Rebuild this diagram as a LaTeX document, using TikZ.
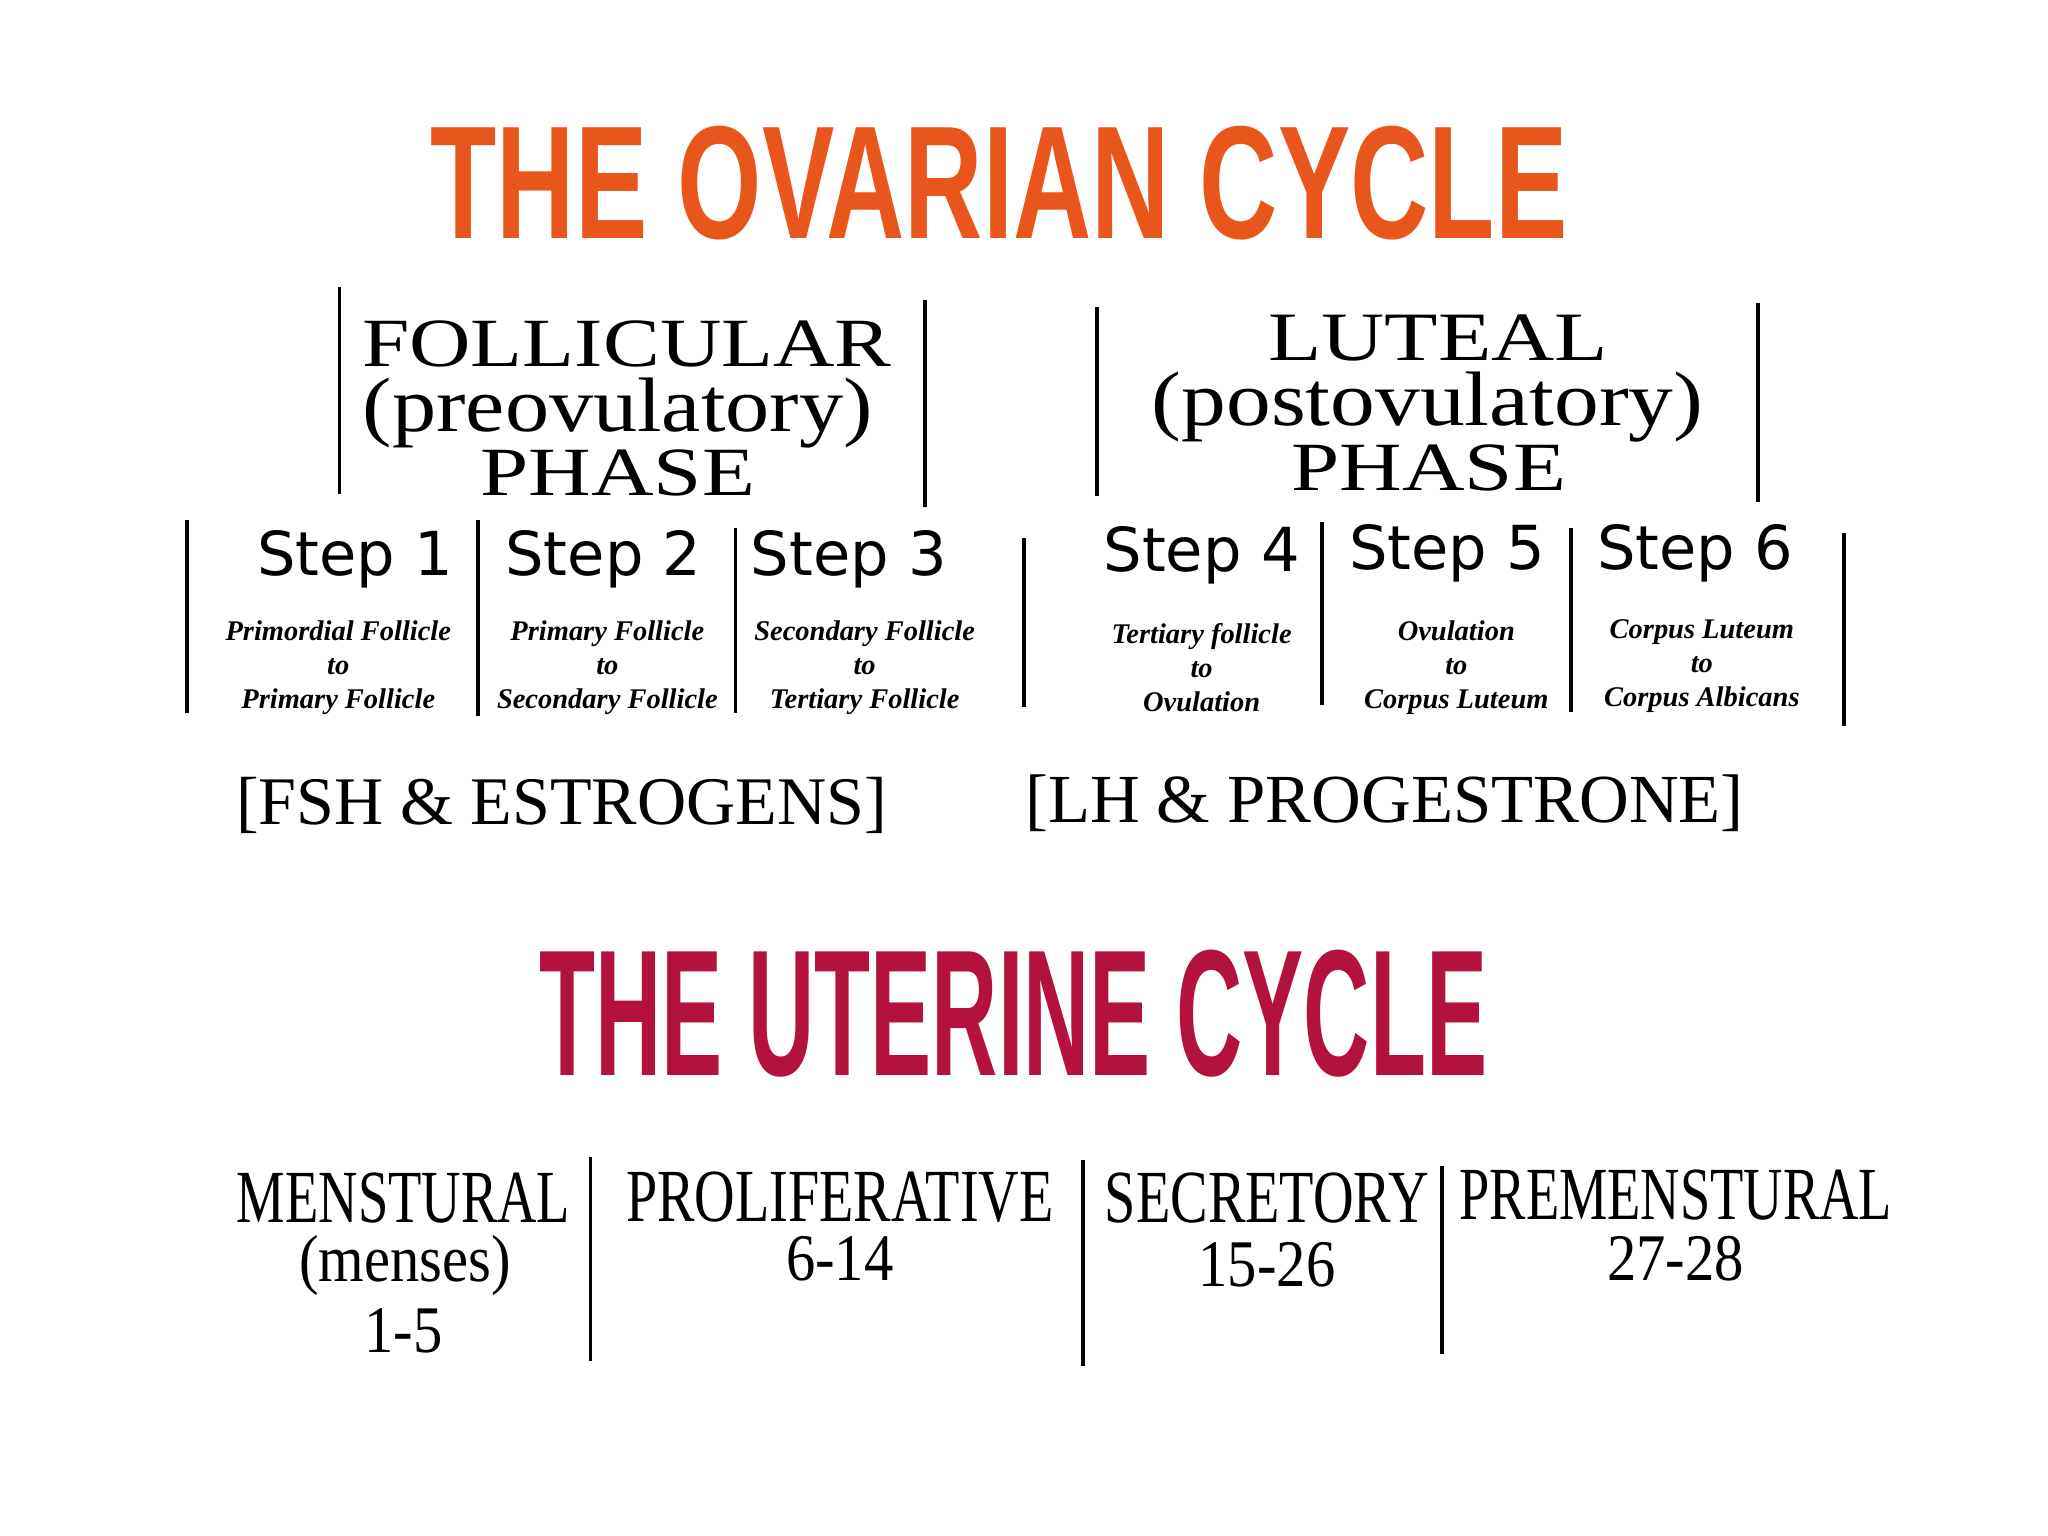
\documentclass[tikz,border=0pt]{standalone}
\usepackage{fontspec}
\setmainfont{Liberation Serif}
\newfontfamily\titlefont{Liberation Sans}
\newfontfamily\stepfont{DejaVu Sans}
\definecolor{ovar}{HTML}{E8561C}
\definecolor{uter}{HTML}{B3123F}
\begin{document}
\begin{tikzpicture}[x=0.01cm,y=-0.01cm,
  sep/.style={line width=0.8pt,black},
  sub/.style={font=\fontsize{6.2}{7.4}\selectfont\bfseries\itshape,align=center,inner sep=0},
  lbl/.style={inner sep=0},
  num/.style={inner sep=0,font=\fontsize{14.5}{16}\selectfont}]
\useasboundingbox (0,0) rectangle (1568,1176);
\fill[white] (0,0) rectangle (1568,1176);
% titles
\node[lbl,text=ovar] (t1) at (765,140) {\resizebox{8.7cm}{0.86cm}{\titlefont\bfseries THE OVARIAN CYCLE}};
\node[lbl,text=uter] (t2) at (776,776) {\resizebox{7.25cm}{0.96cm}{\titlefont\bfseries THE UTERINE CYCLE}};
% phases
\node[lbl] (f1) at (480,263) {\resizebox{4.05cm}{0.35cm}{FOLLICULAR}};
\node[lbl] (f2) at (473,316) {\resizebox{3.9cm}{0.41cm}{(preovulatory)}};
\node[lbl] (f3) at (473,362) {\resizebox{2.1cm}{0.35cm}{PHASE}};
\node[lbl] (l1) at (1101,259) {\resizebox{2.6cm}{0.35cm}{LUTEAL}};
\node[lbl] (l2) at (1093,312) {\resizebox{4.22cm}{0.41cm}{(postovulatory)}};
\node[lbl] (l3) at (1094,358) {\resizebox{2.1cm}{0.35cm}{PHASE}};
\draw[sep] (260,220) -- (260,378);
\draw[sep] (708,230) -- (708,388);
\draw[sep] (840,235) -- (840,380);
\draw[sep] (1346,232) -- (1346,384);
% steps
\foreach \n/\x/\y in {1/272/428,2/462/428,3/650/428,4/920/425,5/1108/424,6/1298/424}
  \node[lbl] (s\n) at (\x,\y) {\resizebox{1.5cm}{!}{\stepfont Step \n}};
\node[sub] (d1) at (259,511) {Primordial Follicle\\to\\Primary Follicle};
\node[sub] (d2) at (465,511) {Primary Follicle\\to\\Secondary Follicle};
\node[sub] (d3) at (662,511) {Secondary Follicle\\to\\Tertiary Follicle};
\node[sub] (d4) at (920,511) {Tertiary follicle\\to\\Ovulation};
\node[sub] (d5) at (1115,511) {Ovulation\\to\\Corpus Luteum};
\node[sub] (d6) at (1303,510) {Corpus Luteum\\to\\Corpus Albicans};
\draw[sep] (143,398) -- (143,546);
\draw[sep] (366,398) -- (366,548);
\draw[sep] (563,404) -- (563,546);
\draw[sep] (784,412) -- (784,541);
\draw[sep] (1012,400) -- (1012,540);
\draw[sep] (1203,404) -- (1203,545);
\draw[sep] (1412,408) -- (1412,556);
% hormones
\node[lbl] (h1) at (430,617) {\resizebox{4.98cm}{!}{[FSH \& ESTROGENS]}};
\node[lbl] (h2) at (1060,615) {\resizebox{5.5cm}{!}{[LH \& PROGESTRONE]}};
% uterine phases
\node[lbl] (u1) at (309,917) {\resizebox{2.55cm}{0.38cm}{MENSTURAL}};
\node[num] (u1b) at (310,969) {\scalebox{0.88}[1]{(menses)}};
\node[num] (u1c) at (309,1019) {\scalebox{0.88}[1]{1-5}};
\node[lbl] (u2) at (643,917) {\resizebox{3.27cm}{0.38cm}{PROLIFERATIVE}};
\node[num] (u2b) at (643,964) {\scalebox{0.88}[1]{6-14}};
\node[lbl] (u3) at (970,917) {\resizebox{2.48cm}{0.38cm}{SECRETORY}};
\node[num] (u3b) at (970,968) {\scalebox{0.88}[1]{15-26}};
\node[lbl] (u4) at (1283,915) {\resizebox{3.31cm}{0.38cm}{PREMENSTURAL}};
\node[num] (u4b) at (1283,964) {\scalebox{0.88}[1]{27-28}};
\draw[sep] (452,886) -- (452,1042);
\draw[sep] (829,888) -- (829,1046);
\draw[sep] (1104,893) -- (1104,1037);
\end{tikzpicture}
\end{document}
